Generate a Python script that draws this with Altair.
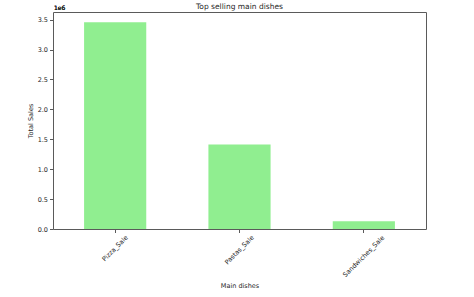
import altair as alt
import pandas as pd

# Total sales per main-dish category
dishes = ["Pizza_Sale", "Pastas_Sale", "Sandwiches_Sale"]
total_sales = [3455000, 1412000, 128000]

df = pd.DataFrame({"dish": dishes, "sales": total_sales})

y_max = max(total_sales) * 1.05
y_ticks = [0, 500000, 1000000, 1500000, 2000000, 2500000, 3000000, 3500000]

FONT = "DejaVu Sans"
INK = "#262626"
FRAME = "#5a5a5a"

bars = alt.Chart(df).mark_bar(color="#90EE90").encode(
    x=alt.X(
        "dish:N",
        sort=dishes,
        title="Main dishes",
        scale=alt.Scale(paddingInner=0.5, paddingOuter=0.25),
        axis=alt.Axis(
            labelAngle=-45,
            labelAlign="center",
            labelBaseline="middle",
            labelPadding=alt.ExprRef("17 + (length(datum.label) - 11) * 1.6"),
            labelOverlap=False,
            labelBound=False,
            labelFlush=False,
            tickSize=3.5,
            titlePadding=4,
        ),
    ),
    y=alt.Y(
        "sales:Q",
        title="Total Sales",
        scale=alt.Scale(domain=[0, y_max], nice=False, zero=True),
        axis=alt.Axis(
            values=y_ticks,
            labelExpr="format(datum.value / 1e6, '.1f')",
            tickSize=3.5,
            labelPadding=2,
            titlePadding=4,
            grid=False,
        ),
    ),
)

# Scale factor shown above the y axis
offset_text = alt.Chart(df).mark_text(
    text="1e6", align="left", baseline="alphabetic", font=FONT, fontSize=6,
    fontWeight="normal", color=INK,
).encode(x=alt.value(1), y=alt.value(-2.5))

chart = (
    alt.layer(bars, offset_text)
    .properties(
        width=373,
        height=217,
        background="white",
        title=alt.TitleParams(
            "Top selling main dishes", font=FONT, fontSize=7.5, fontWeight="normal",
            color=INK, offset=-5.5, anchor="middle", frame="group",
        ),
        autosize=alt.AutoSizeParams(type="none"),
        padding={"left": 53, "top": 12, "right": 48, "bottom": 68},
    )
    .configure_view(stroke=FRAME, strokeWidth=1)
    .configure_axis(
        domain=False,
        tickColor=FRAME,
        tickWidth=1,
        labelFont=FONT,
        labelFontSize=6.5,
        labelColor=INK,
        titleFont=FONT,
        titleFontSize=6.5,
        titleFontWeight="normal",
        titleColor=INK,
    )
)

chart.save("out.html", embed_options={"renderer": "svg", "actions": False})
